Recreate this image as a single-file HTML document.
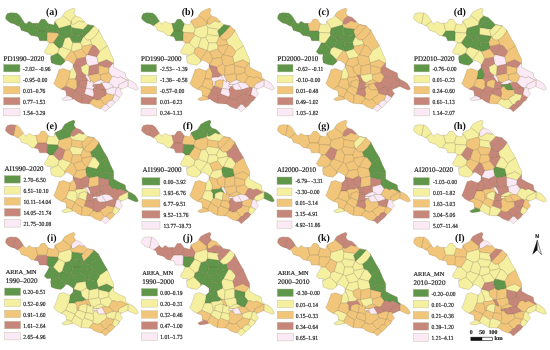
<!DOCTYPE html>
<html><head><meta charset="utf-8"><title>Figure</title>
<style>
html,body{margin:0;padding:0;background:#fff;}
svg{display:block}
text{font-family:"Liberation Serif",serif;fill:#1a1a1a;stroke:#1a1a1a;stroke-width:0.18px;text-rendering:geometricPrecision}
.pl{font-weight:bold;font-size:10px;fill:#111;stroke:none}
</style></head><body>
<svg width="550" height="350" viewBox="0 0 550 350">
<rect width="550" height="350" fill="#fff"/>
<defs>
<path id="c1" d="M10.7,12.7L7.5,13.5L6.3,15.0L5.7,17.2L5.7,18.9L7.9,21.1L10.7,22.9L13.7,23.7L15.8,13.0Z"/>
<path id="c2" d="M14.3,23.9L16.8,25.4L17.6,25.7L23.5,21.3L22.9,20.4L21.4,17.9L19.3,15.0L16.4,13.0L15.8,13.0L13.7,23.7Z"/>
<path id="c3" d="M26.4,23.8L24.6,22.9L23.5,21.3L17.6,25.7L19.6,26.4L20.7,28.6L21.2,30.2L25.9,31.7L27.7,32.2L30.9,35.4L34.3,36.0L37.8,31.0L35.8,23.2L32.2,23.2L29.5,21.5L29.0,21.2Z"/>
<path id="c4" d="M46.3,31.0L48.5,23.8L48.3,23.8L45.0,19.3L41.2,19.3L38.6,23.2L35.8,23.2L37.8,31.0Z"/>
<path id="c5" d="M58.1,33.1L59.2,28.3L54.9,21.3L54.0,25.0L48.5,23.8L46.3,31.0L47.4,32.4Z"/>
<path id="c6" d="M46.3,31.0L37.8,31.0L34.3,36.0L38.0,36.7L39.7,40.8L46.7,40.8L47.1,41.1L47.4,32.4Z"/>
<path id="c7" d="M49.3,42.7L49.1,43.1L53.2,43.0L58.8,35.0L58.1,33.1L47.4,32.4L47.1,41.1Z"/>
<path id="c8" d="M70.5,25.1L71.1,22.0L62.8,15.4L61.6,17.4L55.1,20.6L54.9,21.3L59.2,28.3Z"/>
<path id="c9" d="M71.6,21.6L71.9,19.5L75.7,16.1L73.8,12.9L75.1,9.7L73.8,8.0L69.3,9.7L64.8,12.2L62.8,15.4L71.1,22.0Z"/>
<path id="c10" d="M71.2,23.9L73.4,24.6L79.2,21.0L83.5,22.5L84.1,21.2L80.2,17.4L75.7,16.1L71.9,19.5Z"/>
<path id="c11" d="M83.2,29.5L87.8,24.7L93.4,25.8L93.6,25.7L87.3,24.5L84.1,21.2L83.5,22.5L79.2,21.0L73.4,24.6L71.2,23.9L71.6,21.6L71.1,22.0L70.5,25.1L71.7,27.7Z"/>
<path id="c12" d="M83.4,36.3L81.7,31.0L83.2,29.5L71.7,27.7L71.4,34.6Z"/>
<path id="c13" d="M65.1,38.2L69.7,37.3L71.4,34.6L71.7,27.7L70.5,25.1L59.2,28.3L58.1,33.1L58.8,35.0Z"/>
<path id="c14" d="M62.3,47.1L65.1,38.2L58.8,35.0L53.2,43.0L59.1,48.7Z"/>
<path id="c15" d="M59.1,48.7L53.2,43.0L49.1,43.1L47.4,46.6L44.2,51.7L46.7,54.3L51.2,54.3L50.8,56.6L58.0,52.9Z"/>
<path id="c16" d="M58.0,52.9L50.8,56.6L50.6,57.5L51.2,62.7L55.7,64.6L60.9,65.2L64.1,62.7L64.9,61.6L64.6,59.4Z"/>
<path id="c17" d="M71.3,50.6L71.2,50.4L62.3,47.1L59.1,48.7L58.0,52.9L64.6,59.4Z"/>
<path id="c18" d="M72.8,42.8L69.7,37.3L65.1,38.2L62.3,47.1L71.2,50.4Z"/>
<path id="c19" d="M72.8,42.8L80.7,42.8L83.5,36.5L83.4,36.3L71.4,34.6L69.7,37.3Z"/>
<path id="c20" d="M73.5,51.7L81.7,49.1L82.1,46.4L80.7,42.8L72.8,42.8L71.2,50.4L71.3,50.6Z"/>
<path id="c21" d="M83.8,37.5L85.0,35.7L89.5,31.5L94.2,26.1L94.1,26.0L87.8,24.7L81.7,31.0Z"/>
<path id="c22" d="M87.2,40.2L90.8,39.9L95.2,36.3L98.8,31.2L98.3,29.6L94.2,26.1L89.5,31.5L85.0,35.7L83.8,37.5Z"/>
<path id="c23" d="M91.9,44.4L90.5,39.9L87.2,40.2L83.8,37.5L83.5,36.5L80.7,42.8L82.1,46.4Z"/>
<path id="c24" d="M95.1,45.8L99.5,51.3L107.5,45.8L107.2,45.0L105.5,42.3L104.0,39.9L100.8,34.1L98.3,29.6L98.8,31.2L95.2,36.3L90.8,39.9L90.5,39.9L91.9,44.4L92.6,45.3ZM93.8,25.7L93.6,25.7L93.4,25.8L94.1,26.0L94.2,26.0Z"/>
<path id="c25" d="M87.5,54.8L92.6,45.3L91.9,44.4L82.1,46.4L81.7,49.1L86.5,55.2Z"/>
<path id="c26" d="M96.7,57.0L99.5,52.6L99.5,51.3L95.1,45.8L92.6,45.3L87.5,54.8Z"/>
<path id="c27" d="M96.7,57.0L98.2,63.1L106.7,59.8L113.2,63.3L113.6,63.2L113.6,59.2L110.4,52.7L110.1,51.9L107.5,45.8L99.5,51.3L99.5,52.6Z"/>
<path id="c28" d="M98.7,65.6L109.2,68.1L113.2,63.3L106.7,59.8L98.2,63.1L98.0,64.2Z"/>
<path id="c29" d="M86.7,64.0L89.3,66.1L98.0,64.2L98.2,63.1L96.7,57.0L87.5,54.8L86.5,55.2L85.4,57.3Z"/>
<path id="c30" d="M85.4,57.3L86.5,55.2L81.7,49.1L73.5,51.7L76.7,58.9Z"/>
<path id="c31" d="M76.7,58.9L73.5,51.7L71.3,50.6L64.6,59.4L64.9,61.6L66.0,60.1L68.6,60.7L73.1,64.0L73.1,65.3L73.6,65.0Z"/>
<path id="c32" d="M86.7,64.0L85.4,57.3L76.7,58.9L73.6,65.0L80.7,67.1Z"/>
<path id="c33" d="M86.2,75.5L87.7,75.0L88.2,75.9L88.5,75.5L89.3,66.1L86.7,64.0L80.7,67.1L81.9,72.0Z"/>
<path id="c34" d="M76.4,74.1L75.6,78.1L76.5,77.5L83.0,77.0L85.0,75.5L85.4,75.7L86.2,75.5L81.9,72.0L80.7,67.1L73.6,65.0L73.1,65.3L73.1,66.4Z"/>
<path id="c35" d="M75.3,79.0L75.0,78.5L75.6,78.1L76.4,74.1L73.1,66.4L73.1,67.8L70.2,70.7L68.8,79.0Z"/>
<path id="c36" d="M88.5,75.5L98.8,73.6L98.7,65.6L98.0,64.2L89.3,66.1Z"/>
<path id="c37" d="M100.2,75.0L108.8,72.6L109.2,68.1L98.7,65.6L98.8,73.6Z"/>
<path id="c38" d="M114.4,76.5L117.6,78.0L120.5,76.9L127.4,80.3L128.3,80.3L128.9,79.9L126.0,77.5L125.2,73.0L122.6,71.8L118.8,70.1L117.9,69.5L113.6,67.0L113.6,63.2L113.2,63.3L109.2,68.1L108.8,72.6L112.1,76.8Z"/>
<path id="c39" d="M112.1,76.8L108.8,72.6L100.2,75.0L100.7,79.9L103.8,81.2L104.8,82.3L108.9,82.9Z"/>
<path id="c40" d="M94.1,82.9L95.0,82.3L97.8,80.8L100.7,79.9L100.7,79.9L100.2,75.0L98.8,73.6L88.5,75.5L88.2,75.9L90.0,79.3L90.2,80.4ZM96.3,84.3L97.0,84.3L99.7,84.0L96.3,84.3Z"/>
<path id="c41" d="M92.9,86.8L96.3,86.5L97.4,88.8L97.0,84.3L96.3,84.3L93.6,84.3L92.5,85.6Z"/>
<path id="c42" d="M97.4,88.8L99.7,90.2L103.8,89.9L106.0,89.7L104.5,87.5L103.0,85.0L101.7,82.7L99.7,84.0L97.0,84.3Z"/>
<path id="c43" d="M103.0,85.0L104.5,87.5L106.0,89.7L108.0,89.1L111.3,87.9L113.7,87.4L112.4,85.4L109.6,83.0L104.8,82.3L101.7,82.7Z"/>
<path id="c44" d="M120.5,76.9L117.6,78.0L114.4,76.5L112.1,76.8L108.9,82.9L109.6,83.0L112.4,85.4L113.3,86.8L116.5,88.1L118.1,87.5L119.1,84.5L127.4,80.3Z"/>
<path id="c45" d="M121.4,89.1L124.4,87.9L127.6,86.3L128.1,86.6L128.3,80.3L127.4,80.3L119.1,84.5L118.1,87.5Z"/>
<path id="c46" d="M128.1,86.6L131.6,88.3L136.2,90.1L138.4,89.0L137.3,86.5L135.3,83.5L131.6,80.9L129.0,80.0L128.9,79.9L128.3,80.3Z"/>
<path id="c47" d="M59.0,69.7L57.7,73.6L56.9,76.0L56.0,78.5L53.8,83.4L56.7,86.8L61.0,89.1L65.8,86.2L68.7,79.0L68.8,79.0L70.2,70.7L69.9,71.0L68.6,70.5L64.7,69.0L63.5,68.5Z"/>
<path id="c48" d="M65.8,86.2L75.0,90.0L77.6,86.2L77.0,86.0L77.0,81.5L75.3,79.0L68.8,79.0L68.7,79.0Z"/>
<path id="c49" d="M61.2,89.2L65.7,90.8L66.6,95.4L71.6,97.2L75.1,90.9L75.0,90.0L65.8,86.2L61.0,89.1Z"/>
<path id="c50" d="M72.3,99.2L73.5,98.8L77.3,101.4L81.2,103.3L81.3,103.3L82.4,95.6L75.1,90.9L71.6,97.2Z"/>
<path id="c51" d="M66.6,95.4L66.8,96.5L61.7,98.9L63.8,100.7L69.6,100.0L72.3,99.2L71.6,97.2Z"/>
<path id="c52" d="M85.9,88.7L86.2,88.5L87.5,80.3L84.0,79.5L79.0,81.5L78.5,86.0Z"/>
<path id="c53" d="M77.0,81.5L77.0,86.0L78.5,86.5L79.0,81.5L84.0,79.5L87.5,80.3L89.3,81.0L87.6,78.5L85.8,75.8L85.0,75.5L83.0,77.0L76.5,77.5L75.0,78.5Z"/>
<path id="c54" d="M92.8,89.4L95.1,86.6L92.9,86.8L92.5,85.6L93.6,84.3L92.8,83.7L94.1,82.9L90.2,80.4L90.6,82.2L88.5,81.0L88.2,80.6L87.5,80.3L87.5,80.3L86.2,88.5ZM96.3,84.3L96.3,84.3L96.3,84.3Z"/>
<path id="c55" d="M89.0,103.9L93.1,98.7L92.7,96.8L84.5,93.8L82.4,95.6L81.3,103.3Z"/>
<path id="c56" d="M86.8,78.5L88.5,81.0L90.6,82.2L90.0,79.3L87.7,75.0L85.0,75.8Z"/>
<path id="c57" d="M93.8,94.2L92.7,96.8L93.1,98.7L97.1,100.2L100.7,99.3L101.7,97.4L106.0,95.2L106.8,93.3L106.0,89.7L106.0,89.7L103.8,89.9L99.7,90.2L97.4,88.8L96.3,86.5L95.1,86.6L92.8,89.4Z"/>
<path id="c58" d="M89.0,103.9L90.9,104.0L94.2,106.5L97.9,108.0L99.3,108.5L100.7,108.8L104.9,104.6L100.7,99.3L97.1,100.2L93.1,98.7Z"/>
<path id="c59" d="M114.2,95.1L106.8,93.3L106.0,95.2L101.7,97.4L100.7,99.3L104.9,104.6L106.6,104.4L108.9,101.1L112.2,100.3Z"/>
<path id="c60" d="M114.2,95.1L114.9,94.7L116.5,88.1L113.3,86.8L113.7,87.4L111.3,87.9L108.0,89.1L106.0,89.7L106.8,93.3Z"/>
<path id="c61" d="M114.9,94.7L119.6,97.5L119.9,96.9L122.5,93.7L119.9,89.8L121.4,89.1L118.1,87.5L116.5,88.1Z"/>
<path id="c62" d="M114.9,102.6L118.0,100.1L119.6,97.5L114.9,94.7L114.2,95.1L112.2,100.3Z"/>
<path id="c63" d="M104.9,104.6L100.7,108.8L102.5,109.1L105.1,111.7L109.0,108.5L109.8,107.8L106.6,104.4Z"/>
<path id="c64" d="M82.4,95.6L84.5,93.8L85.9,88.7L78.5,86.0L78.5,86.5L77.6,86.2L75.0,90.0L75.1,90.9Z"/>
<path id="c65" d="M84.5,93.8L92.7,96.8L93.8,94.2L92.8,89.4L86.2,88.5L85.9,88.7Z"/>
<path id="c66" d="M108.9,101.1L106.6,104.4L109.8,107.8L112.8,105.2L114.7,102.7L114.9,102.6L112.2,100.3Z"/>
<path id="c67" d="M93.6,84.3L96.3,84.3L99.7,84.0L101.7,82.7L104.8,82.3L103.8,81.2L100.7,79.9L97.8,80.8L95.0,82.3L92.8,83.7Z"/>
<path id="ol" d="M5.7,18.9L7.9,21.1L10.7,22.9L14.3,23.9L16.8,25.4L19.6,26.4L20.7,28.6L21.2,30.2L27.7,32.2L30.9,35.4L38.0,36.7L39.7,40.8L46.7,40.8L49.3,42.7L47.4,46.6L44.2,51.7L46.7,54.3L51.2,54.3L50.6,57.5L51.2,62.7L55.7,64.6L60.9,65.2L64.1,62.7L66.0,60.1L68.6,60.7L73.1,64.0L73.1,67.8L69.9,71.0L68.6,70.5L63.5,68.5L59.0,69.7L57.7,73.6L56.0,78.5L53.8,83.4L56.7,86.8L61.2,89.2L65.7,90.8L66.8,96.5L61.7,98.9L63.8,100.7L69.6,100.0L73.5,98.8L77.3,101.4L81.2,103.3L90.9,104.0L94.2,106.5L99.3,108.5L102.5,109.1L105.1,111.7L109.0,108.5L112.8,105.2L114.7,102.7L118.0,100.1L119.9,96.9L122.5,93.7L119.9,89.8L124.4,87.9L127.6,86.3L131.6,88.3L136.2,90.1L138.4,89.0L137.3,86.5L135.3,83.5L131.6,80.9L129.0,80.0L126.0,77.5L125.2,73.0L118.8,70.1L113.6,67.0L113.6,59.2L110.4,52.7L107.2,45.0L104.0,39.9L100.8,34.1L98.3,29.6L93.8,25.7L87.3,24.5L84.1,21.2L80.2,17.4L75.7,16.1L73.8,12.9L75.1,9.7L73.8,8.0L69.3,9.7L64.8,12.2L61.6,17.4L55.1,20.6L54.0,25.0L48.3,23.8L45.0,19.3L41.2,19.3L38.6,23.2L32.2,23.2L29.0,21.2L26.4,23.8L24.6,22.9L22.9,20.4L21.4,17.9L19.3,15.0L16.4,13.0L10.7,12.7L7.5,13.5L6.3,15.0L5.7,17.2Z"/>
</defs>
<g transform="translate(0,0)" stroke="rgba(100,80,40,0.55)" stroke-width="0.36" stroke-linejoin="round">
<use href="#c1" fill="#5f964a"/>
<use href="#c2" fill="#5f964a"/>
<use href="#c3" fill="#5f964a"/>
<use href="#c4" fill="#5f964a"/>
<use href="#c5" fill="#5f964a"/>
<use href="#c6" fill="#5f964a"/>
<use href="#c7" fill="#f2c67a"/>
<use href="#c8" fill="#f4f0a0"/>
<use href="#c9" fill="#f4f0a0"/>
<use href="#c10" fill="#f4f0a0"/>
<use href="#c11" fill="#f4f0a0"/>
<use href="#c12" fill="#5f964a"/>
<use href="#c13" fill="#5f964a"/>
<use href="#c14" fill="#5f964a"/>
<use href="#c15" fill="#f4f0a0"/>
<use href="#c16" fill="#5f964a"/>
<use href="#c17" fill="#f4f0a0"/>
<use href="#c18" fill="#f4f0a0"/>
<use href="#c19" fill="#5f964a"/>
<use href="#c20" fill="#f4f0a0"/>
<use href="#c21" fill="#5f964a"/>
<use href="#c22" fill="#f4f0a0"/>
<use href="#c23" fill="#f4f0a0"/>
<use href="#c24" fill="#f4f0a0"/>
<use href="#c25" fill="#f2c67a"/>
<use href="#c26" fill="#c7867a"/>
<use href="#c27" fill="#f4f0a0"/>
<use href="#c28" fill="#c7867a"/>
<use href="#c29" fill="#fbeaf6"/>
<use href="#c30" fill="#f2c67a"/>
<use href="#c31" fill="#f2c67a"/>
<use href="#c32" fill="#c7867a"/>
<use href="#c33" fill="#f4f0a0"/>
<use href="#c34" fill="#c7867a"/>
<use href="#c35" fill="#f4f0a0"/>
<use href="#c36" fill="#c7867a"/>
<use href="#c37" fill="#f2c67a"/>
<use href="#c38" fill="#fbeaf6"/>
<use href="#c39" fill="#f2c67a"/>
<use href="#c40" fill="#f2c67a"/>
<use href="#c41" fill="#c7867a"/>
<use href="#c42" fill="#c7867a"/>
<use href="#c43" fill="#fbeaf6"/>
<use href="#c44" fill="#fbeaf6"/>
<use href="#c45" fill="#fbeaf6"/>
<use href="#c46" fill="#fbeaf6"/>
<use href="#c47" fill="#f2c67a"/>
<use href="#c48" fill="#f2c67a"/>
<use href="#c49" fill="#c7867a"/>
<use href="#c50" fill="#c7867a"/>
<use href="#c51" fill="#fbeaf6"/>
<use href="#c52" fill="#c7867a"/>
<use href="#c53" fill="#c7867a"/>
<use href="#c54" fill="#fbeaf6"/>
<use href="#c55" fill="#c7867a"/>
<use href="#c56" fill="#fbeaf6"/>
<use href="#c57" fill="#c7867a"/>
<use href="#c58" fill="#f2c67a"/>
<use href="#c59" fill="#f2c67a"/>
<use href="#c60" fill="#fbeaf6"/>
<use href="#c61" fill="#fbeaf6"/>
<use href="#c62" fill="#fbeaf6"/>
<use href="#c63" fill="#fbeaf6"/>
<use href="#c64" fill="#c7867a"/>
<use href="#c65" fill="#fbeaf6"/>
<use href="#c66" fill="#fbeaf6"/>
<use href="#c67" fill="#fbeaf6"/>
</g>
<text x="51.8" y="14.9" class="pl" text-anchor="middle">(a)</text>
<text transform="translate(3.6,60.6) scale(0.975,1)" font-size="7.21">PD1990–2020</text>
<rect x="3.6" y="64.40" width="16.4" height="7.5" fill="#5f964a" stroke="#b8b8a0" stroke-width="0.4"/>
<text transform="translate(23.10,70.85) scale(0.9,1)" font-size="6.2">-2.82– -0.96</text>
<rect x="3.6" y="75.40" width="16.4" height="7.5" fill="#f4f0a0" stroke="#b8b8a0" stroke-width="0.4"/>
<text transform="translate(23.10,81.85) scale(0.9,1)" font-size="6.2">-0.95–0.00</text>
<rect x="3.6" y="86.40" width="16.4" height="7.5" fill="#f2c67a" stroke="#b8b8a0" stroke-width="0.4"/>
<text transform="translate(23.10,92.85) scale(0.9,1)" font-size="6.2">0.01–0.76</text>
<rect x="3.6" y="97.40" width="16.4" height="7.5" fill="#c7867a" stroke="#b8b8a0" stroke-width="0.4"/>
<text transform="translate(23.10,103.85) scale(0.9,1)" font-size="6.2">0.77–1.53</text>
<rect x="3.6" y="108.40" width="16.4" height="7.5" fill="#fbeaf6" stroke="#b8b8a0" stroke-width="0.4"/>
<text transform="translate(23.10,114.85) scale(0.9,1)" font-size="6.2">1.54–3.29</text>
<g transform="translate(136,0)" stroke="rgba(100,80,40,0.55)" stroke-width="0.36" stroke-linejoin="round">
<use href="#c1" fill="#5f964a"/>
<use href="#c2" fill="#5f964a"/>
<use href="#c3" fill="#f4f0a0"/>
<use href="#c4" fill="#5f964a"/>
<use href="#c5" fill="#f4f0a0"/>
<use href="#c6" fill="#5f964a"/>
<use href="#c7" fill="#f2c67a"/>
<use href="#c8" fill="#f2c67a"/>
<use href="#c9" fill="#f2c67a"/>
<use href="#c10" fill="#f2c67a"/>
<use href="#c11" fill="#f4f0a0"/>
<use href="#c12" fill="#f4f0a0"/>
<use href="#c13" fill="#f4f0a0"/>
<use href="#c14" fill="#f4f0a0"/>
<use href="#c15" fill="#f4f0a0"/>
<use href="#c16" fill="#f4f0a0"/>
<use href="#c17" fill="#f2c67a"/>
<use href="#c18" fill="#f4f0a0"/>
<use href="#c19" fill="#f4f0a0"/>
<use href="#c20" fill="#f4f0a0"/>
<use href="#c21" fill="#5f964a"/>
<use href="#c22" fill="#f2c67a"/>
<use href="#c23" fill="#f2c67a"/>
<use href="#c24" fill="#f4f0a0"/>
<use href="#c25" fill="#f2c67a"/>
<use href="#c26" fill="#f2c67a"/>
<use href="#c27" fill="#f4f0a0"/>
<use href="#c28" fill="#f2c67a"/>
<use href="#c29" fill="#f2c67a"/>
<use href="#c30" fill="#f2c67a"/>
<use href="#c31" fill="#f2c67a"/>
<use href="#c32" fill="#f2c67a"/>
<use href="#c33" fill="#f2c67a"/>
<use href="#c34" fill="#c7867a"/>
<use href="#c35" fill="#f2c67a"/>
<use href="#c36" fill="#f2c67a"/>
<use href="#c37" fill="#f2c67a"/>
<use href="#c38" fill="#f2c67a"/>
<use href="#c39" fill="#f2c67a"/>
<use href="#c40" fill="#f2c67a"/>
<use href="#c41" fill="#fbeaf6"/>
<use href="#c42" fill="#fbeaf6"/>
<use href="#c43" fill="#fbeaf6"/>
<use href="#c44" fill="#f2c67a"/>
<use href="#c45" fill="#fbeaf6"/>
<use href="#c46" fill="#fbeaf6"/>
<use href="#c47" fill="#f2c67a"/>
<use href="#c48" fill="#f2c67a"/>
<use href="#c49" fill="#f2c67a"/>
<use href="#c50" fill="#c7867a"/>
<use href="#c51" fill="#f2c67a"/>
<use href="#c52" fill="#f2c67a"/>
<use href="#c53" fill="#fbeaf6"/>
<use href="#c54" fill="#fbeaf6"/>
<use href="#c55" fill="#c7867a"/>
<use href="#c56" fill="#fbeaf6"/>
<use href="#c57" fill="#c7867a"/>
<use href="#c58" fill="#c7867a"/>
<use href="#c59" fill="#c7867a"/>
<use href="#c60" fill="#c7867a"/>
<use href="#c61" fill="#fbeaf6"/>
<use href="#c62" fill="#c7867a"/>
<use href="#c63" fill="#fbeaf6"/>
<use href="#c64" fill="#c7867a"/>
<use href="#c65" fill="#fbeaf6"/>
<use href="#c66" fill="#c7867a"/>
<use href="#c67" fill="#fbeaf6"/>
</g>
<text x="187.8" y="14.9" class="pl" text-anchor="middle">(b)</text>
<text transform="translate(141,60.6) scale(0.975,1)" font-size="7.21">PD1990–2000</text>
<rect x="141" y="64.40" width="15.6" height="7.5" fill="#5f964a" stroke="#b8b8a0" stroke-width="0.4"/>
<text transform="translate(160.10,70.85) scale(0.9,1)" font-size="6.2">-2.53– -1.39</text>
<rect x="141" y="75.40" width="15.6" height="7.5" fill="#f4f0a0" stroke="#b8b8a0" stroke-width="0.4"/>
<text transform="translate(160.10,81.85) scale(0.9,1)" font-size="6.2">-1.38– -0.58</text>
<rect x="141" y="86.40" width="15.6" height="7.5" fill="#f2c67a" stroke="#b8b8a0" stroke-width="0.4"/>
<text transform="translate(160.10,92.85) scale(0.9,1)" font-size="6.2">-0.57–0.00</text>
<rect x="141" y="97.40" width="15.6" height="7.5" fill="#c7867a" stroke="#b8b8a0" stroke-width="0.4"/>
<text transform="translate(160.10,103.85) scale(0.9,1)" font-size="6.2">0.01–0.23</text>
<rect x="141" y="108.40" width="15.6" height="7.5" fill="#fbeaf6" stroke="#b8b8a0" stroke-width="0.4"/>
<text transform="translate(160.10,114.85) scale(0.9,1)" font-size="6.2">0.24–1.13</text>
<g transform="translate(272,0)" stroke="rgba(100,80,40,0.55)" stroke-width="0.36" stroke-linejoin="round">
<use href="#c1" fill="#5f964a"/>
<use href="#c2" fill="#5f964a"/>
<use href="#c3" fill="#5f964a"/>
<use href="#c4" fill="#f2c67a"/>
<use href="#c5" fill="#f4f0a0"/>
<use href="#c6" fill="#5f964a"/>
<use href="#c7" fill="#f4f0a0"/>
<use href="#c8" fill="#f4f0a0"/>
<use href="#c9" fill="#f2c67a"/>
<use href="#c10" fill="#c7867a"/>
<use href="#c11" fill="#f2c67a"/>
<use href="#c12" fill="#5f964a"/>
<use href="#c13" fill="#5f964a"/>
<use href="#c14" fill="#5f964a"/>
<use href="#c15" fill="#5f964a"/>
<use href="#c16" fill="#5f964a"/>
<use href="#c17" fill="#f4f0a0"/>
<use href="#c18" fill="#5f964a"/>
<use href="#c19" fill="#5f964a"/>
<use href="#c20" fill="#5f964a"/>
<use href="#c21" fill="#f2c67a"/>
<use href="#c22" fill="#f2c67a"/>
<use href="#c23" fill="#f4f0a0"/>
<use href="#c24" fill="#f2c67a"/>
<use href="#c25" fill="#f2c67a"/>
<use href="#c26" fill="#f2c67a"/>
<use href="#c27" fill="#f4f0a0"/>
<use href="#c28" fill="#f2c67a"/>
<use href="#c29" fill="#f2c67a"/>
<use href="#c30" fill="#f4f0a0"/>
<use href="#c31" fill="#f2c67a"/>
<use href="#c32" fill="#f2c67a"/>
<use href="#c33" fill="#f2c67a"/>
<use href="#c34" fill="#f2c67a"/>
<use href="#c35" fill="#f4f0a0"/>
<use href="#c36" fill="#f2c67a"/>
<use href="#c37" fill="#f2c67a"/>
<use href="#c38" fill="#c7867a"/>
<use href="#c39" fill="#f2c67a"/>
<use href="#c40" fill="#f4f0a0"/>
<use href="#c41" fill="#f2c67a"/>
<use href="#c42" fill="#f2c67a"/>
<use href="#c43" fill="#c7867a"/>
<use href="#c44" fill="#c7867a"/>
<use href="#c45" fill="#c7867a"/>
<use href="#c46" fill="#c7867a"/>
<use href="#c47" fill="#f2c67a"/>
<use href="#c48" fill="#f2c67a"/>
<use href="#c49" fill="#f2c67a"/>
<use href="#c50" fill="#f2c67a"/>
<use href="#c51" fill="#f2c67a"/>
<use href="#c52" fill="#f2c67a"/>
<use href="#c53" fill="#f2c67a"/>
<use href="#c54" fill="#c7867a"/>
<use href="#c55" fill="#f2c67a"/>
<use href="#c56" fill="#c7867a"/>
<use href="#c57" fill="#f2c67a"/>
<use href="#c58" fill="#f2c67a"/>
<use href="#c59" fill="#f2c67a"/>
<use href="#c60" fill="#c7867a"/>
<use href="#c61" fill="#c7867a"/>
<use href="#c62" fill="#fbeaf6"/>
<use href="#c63" fill="#fbeaf6"/>
<use href="#c64" fill="#f2c67a"/>
<use href="#c65" fill="#c7867a"/>
<use href="#c66" fill="#fbeaf6"/>
<use href="#c67" fill="#f2c67a"/>
</g>
<text x="323.8" y="14.9" class="pl" text-anchor="middle">(c)</text>
<text transform="translate(277.6,60.6) scale(0.975,1)" font-size="7.21">PD2000–2010</text>
<rect x="277.6" y="64.40" width="15.4" height="7.5" fill="#5f964a" stroke="#b8b8a0" stroke-width="0.4"/>
<text transform="translate(296.10,70.85) scale(0.9,1)" font-size="6.2">-0.62– -0.11</text>
<rect x="277.6" y="75.40" width="15.4" height="7.5" fill="#f4f0a0" stroke="#b8b8a0" stroke-width="0.4"/>
<text transform="translate(296.10,81.85) scale(0.9,1)" font-size="6.2">-0.10–0.00</text>
<rect x="277.6" y="86.40" width="15.4" height="7.5" fill="#f2c67a" stroke="#b8b8a0" stroke-width="0.4"/>
<text transform="translate(296.10,92.85) scale(0.9,1)" font-size="6.2">0.01–0.48</text>
<rect x="277.6" y="97.40" width="15.4" height="7.5" fill="#c7867a" stroke="#b8b8a0" stroke-width="0.4"/>
<text transform="translate(296.10,103.85) scale(0.9,1)" font-size="6.2">0.49–1.02</text>
<rect x="277.6" y="108.40" width="15.4" height="7.5" fill="#fbeaf6" stroke="#b8b8a0" stroke-width="0.4"/>
<text transform="translate(296.10,114.85) scale(0.9,1)" font-size="6.2">1.03–1.82</text>
<g transform="translate(408,0)" stroke="rgba(100,80,40,0.55)" stroke-width="0.36" stroke-linejoin="round">
<use href="#c1" fill="#f4f0a0"/>
<use href="#c2" fill="#f4f0a0"/>
<use href="#c3" fill="#f4f0a0"/>
<use href="#c4" fill="#f4f0a0"/>
<use href="#c5" fill="#f4f0a0"/>
<use href="#c6" fill="#5f964a"/>
<use href="#c7" fill="#f4f0a0"/>
<use href="#c8" fill="#f4f0a0"/>
<use href="#c9" fill="#f4f0a0"/>
<use href="#c10" fill="#5f964a"/>
<use href="#c11" fill="#5f964a"/>
<use href="#c12" fill="#f4f0a0"/>
<use href="#c13" fill="#5f964a"/>
<use href="#c14" fill="#5f964a"/>
<use href="#c15" fill="#f4f0a0"/>
<use href="#c16" fill="#5f964a"/>
<use href="#c17" fill="#f4f0a0"/>
<use href="#c18" fill="#5f964a"/>
<use href="#c19" fill="#5f964a"/>
<use href="#c20" fill="#5f964a"/>
<use href="#c21" fill="#f4f0a0"/>
<use href="#c22" fill="#f4f0a0"/>
<use href="#c23" fill="#f2c67a"/>
<use href="#c24" fill="#f2c67a"/>
<use href="#c25" fill="#c7867a"/>
<use href="#c26" fill="#c7867a"/>
<use href="#c27" fill="#f2c67a"/>
<use href="#c28" fill="#c7867a"/>
<use href="#c29" fill="#fbeaf6"/>
<use href="#c30" fill="#f2c67a"/>
<use href="#c31" fill="#f4f0a0"/>
<use href="#c32" fill="#c7867a"/>
<use href="#c33" fill="#f4f0a0"/>
<use href="#c34" fill="#c7867a"/>
<use href="#c35" fill="#5f964a"/>
<use href="#c36" fill="#c7867a"/>
<use href="#c37" fill="#f2c67a"/>
<use href="#c38" fill="#fbeaf6"/>
<use href="#c39" fill="#f2c67a"/>
<use href="#c40" fill="#f2c67a"/>
<use href="#c41" fill="#5f964a"/>
<use href="#c42" fill="#5f964a"/>
<use href="#c43" fill="#c7867a"/>
<use href="#c44" fill="#fbeaf6"/>
<use href="#c45" fill="#fbeaf6"/>
<use href="#c46" fill="#fbeaf6"/>
<use href="#c47" fill="#f2c67a"/>
<use href="#c48" fill="#f2c67a"/>
<use href="#c49" fill="#c7867a"/>
<use href="#c50" fill="#c7867a"/>
<use href="#c51" fill="#fbeaf6"/>
<use href="#c52" fill="#f2c67a"/>
<use href="#c53" fill="#c7867a"/>
<use href="#c54" fill="#c7867a"/>
<use href="#c55" fill="#f2c67a"/>
<use href="#c56" fill="#fbeaf6"/>
<use href="#c57" fill="#f2c67a"/>
<use href="#c58" fill="#f4f0a0"/>
<use href="#c59" fill="#f4f0a0"/>
<use href="#c60" fill="#c7867a"/>
<use href="#c61" fill="#fbeaf6"/>
<use href="#c62" fill="#c7867a"/>
<use href="#c63" fill="#c7867a"/>
<use href="#c64" fill="#c7867a"/>
<use href="#c65" fill="#c7867a"/>
<use href="#c66" fill="#c7867a"/>
<use href="#c67" fill="#fbeaf6"/>
</g>
<text x="459.8" y="14.9" class="pl" text-anchor="middle">(d)</text>
<text transform="translate(414,60.6) scale(0.975,1)" font-size="7.21">PD2010–2020</text>
<rect x="414" y="64.40" width="15.4" height="7.5" fill="#5f964a" stroke="#b8b8a0" stroke-width="0.4"/>
<text transform="translate(432.50,70.85) scale(0.9,1)" font-size="6.2">-0.76–0.00</text>
<rect x="414" y="75.40" width="15.4" height="7.5" fill="#f4f0a0" stroke="#b8b8a0" stroke-width="0.4"/>
<text transform="translate(432.50,81.85) scale(0.9,1)" font-size="6.2">0.01–0.23</text>
<rect x="414" y="86.40" width="15.4" height="7.5" fill="#f2c67a" stroke="#b8b8a0" stroke-width="0.4"/>
<text transform="translate(432.50,92.85) scale(0.9,1)" font-size="6.2">0.24–0.60</text>
<rect x="414" y="97.40" width="15.4" height="7.5" fill="#c7867a" stroke="#b8b8a0" stroke-width="0.4"/>
<text transform="translate(432.50,103.85) scale(0.9,1)" font-size="6.2">0.61–1.13</text>
<rect x="414" y="108.40" width="15.4" height="7.5" fill="#fbeaf6" stroke="#b8b8a0" stroke-width="0.4"/>
<text transform="translate(432.50,114.85) scale(0.9,1)" font-size="6.2">1.14–2.07</text>
<g transform="translate(0,112)" stroke="rgba(100,80,40,0.55)" stroke-width="0.36" stroke-linejoin="round">
<use href="#c1" fill="#c7867a"/>
<use href="#c2" fill="#f2c67a"/>
<use href="#c3" fill="#f4f0a0"/>
<use href="#c4" fill="#f2c67a"/>
<use href="#c5" fill="#f4f0a0"/>
<use href="#c6" fill="#c7867a"/>
<use href="#c7" fill="#5f964a"/>
<use href="#c8" fill="#5f964a"/>
<use href="#c9" fill="#5f964a"/>
<use href="#c10" fill="#c7867a"/>
<use href="#c11" fill="#f4f0a0"/>
<use href="#c12" fill="#f2c67a"/>
<use href="#c13" fill="#f2c67a"/>
<use href="#c14" fill="#c7867a"/>
<use href="#c15" fill="#f4f0a0"/>
<use href="#c16" fill="#f4f0a0"/>
<use href="#c17" fill="#f4f0a0"/>
<use href="#c18" fill="#f2c67a"/>
<use href="#c19" fill="#f4f0a0"/>
<use href="#c20" fill="#f2c67a"/>
<use href="#c21" fill="#f2c67a"/>
<use href="#c22" fill="#f2c67a"/>
<use href="#c23" fill="#f2c67a"/>
<use href="#c24" fill="#5f964a"/>
<use href="#c25" fill="#f2c67a"/>
<use href="#c26" fill="#f4f0a0"/>
<use href="#c27" fill="#5f964a"/>
<use href="#c28" fill="#5f964a"/>
<use href="#c29" fill="#5f964a"/>
<use href="#c30" fill="#f2c67a"/>
<use href="#c31" fill="#f2c67a"/>
<use href="#c32" fill="#f2c67a"/>
<use href="#c33" fill="#c7867a"/>
<use href="#c34" fill="#c7867a"/>
<use href="#c35" fill="#f2c67a"/>
<use href="#c36" fill="#f2c67a"/>
<use href="#c37" fill="#c7867a"/>
<use href="#c38" fill="#5f964a"/>
<use href="#c39" fill="#c7867a"/>
<use href="#c40" fill="#c7867a"/>
<use href="#c41" fill="#fbeaf6"/>
<use href="#c42" fill="#fbeaf6"/>
<use href="#c43" fill="#fbeaf6"/>
<use href="#c44" fill="#c7867a"/>
<use href="#c45" fill="#f4f0a0"/>
<use href="#c46" fill="#5f964a"/>
<use href="#c47" fill="#f2c67a"/>
<use href="#c48" fill="#f4f0a0"/>
<use href="#c49" fill="#f2c67a"/>
<use href="#c50" fill="#f2c67a"/>
<use href="#c51" fill="#f4f0a0"/>
<use href="#c52" fill="#f4f0a0"/>
<use href="#c53" fill="#f4f0a0"/>
<use href="#c54" fill="#c7867a"/>
<use href="#c55" fill="#f2c67a"/>
<use href="#c56" fill="#fbeaf6"/>
<use href="#c57" fill="#c7867a"/>
<use href="#c58" fill="#f2c67a"/>
<use href="#c59" fill="#f2c67a"/>
<use href="#c60" fill="#c7867a"/>
<use href="#c61" fill="#fbeaf6"/>
<use href="#c62" fill="#f4f0a0"/>
<use href="#c63" fill="#fbeaf6"/>
<use href="#c64" fill="#f2c67a"/>
<use href="#c65" fill="#c7867a"/>
<use href="#c66" fill="#f2c67a"/>
<use href="#c67" fill="#c7867a"/>
</g>
<text x="51.8" y="128.7" class="pl" text-anchor="middle">(e)</text>
<text transform="translate(4.4,171.4) scale(0.975,1)" font-size="7.21">AI1990–2020</text>
<rect x="4.4" y="175.60" width="16" height="7.5" fill="#5f964a" stroke="#b8b8a0" stroke-width="0.4"/>
<text transform="translate(23.50,182.05) scale(0.9,1)" font-size="6.2">2.70–6.50</text>
<rect x="4.4" y="186.60" width="16" height="7.5" fill="#f4f0a0" stroke="#b8b8a0" stroke-width="0.4"/>
<text transform="translate(23.50,193.05) scale(0.9,1)" font-size="6.2">6.51–10.10</text>
<rect x="4.4" y="197.60" width="16" height="7.5" fill="#f2c67a" stroke="#b8b8a0" stroke-width="0.4"/>
<text transform="translate(23.50,204.05) scale(0.9,1)" font-size="6.2">10.11–14.04</text>
<rect x="4.4" y="208.60" width="16" height="7.5" fill="#c7867a" stroke="#b8b8a0" stroke-width="0.4"/>
<text transform="translate(23.50,215.05) scale(0.9,1)" font-size="6.2">14.05–21.74</text>
<rect x="4.4" y="219.60" width="16" height="7.5" fill="#fbeaf6" stroke="#b8b8a0" stroke-width="0.4"/>
<text transform="translate(23.50,226.05) scale(0.9,1)" font-size="6.2">21.75–30.08</text>
<g transform="translate(136,112)" stroke="rgba(100,80,40,0.55)" stroke-width="0.36" stroke-linejoin="round">
<use href="#c1" fill="#c7867a"/>
<use href="#c2" fill="#c7867a"/>
<use href="#c3" fill="#f4f0a0"/>
<use href="#c4" fill="#c7867a"/>
<use href="#c5" fill="#f2c67a"/>
<use href="#c6" fill="#c7867a"/>
<use href="#c7" fill="#5f964a"/>
<use href="#c8" fill="#5f964a"/>
<use href="#c9" fill="#5f964a"/>
<use href="#c10" fill="#5f964a"/>
<use href="#c11" fill="#f4f0a0"/>
<use href="#c12" fill="#f2c67a"/>
<use href="#c13" fill="#f2c67a"/>
<use href="#c14" fill="#f2c67a"/>
<use href="#c15" fill="#f4f0a0"/>
<use href="#c16" fill="#f4f0a0"/>
<use href="#c17" fill="#f4f0a0"/>
<use href="#c18" fill="#f4f0a0"/>
<use href="#c19" fill="#f4f0a0"/>
<use href="#c20" fill="#f4f0a0"/>
<use href="#c21" fill="#f2c67a"/>
<use href="#c22" fill="#f2c67a"/>
<use href="#c23" fill="#f4f0a0"/>
<use href="#c24" fill="#c7867a"/>
<use href="#c25" fill="#f4f0a0"/>
<use href="#c26" fill="#f4f0a0"/>
<use href="#c27" fill="#f2c67a"/>
<use href="#c28" fill="#f2c67a"/>
<use href="#c29" fill="#5f964a"/>
<use href="#c30" fill="#f2c67a"/>
<use href="#c31" fill="#f4f0a0"/>
<use href="#c32" fill="#f4f0a0"/>
<use href="#c33" fill="#f2c67a"/>
<use href="#c34" fill="#f2c67a"/>
<use href="#c35" fill="#f4f0a0"/>
<use href="#c36" fill="#f2c67a"/>
<use href="#c37" fill="#f2c67a"/>
<use href="#c38" fill="#f4f0a0"/>
<use href="#c39" fill="#f2c67a"/>
<use href="#c40" fill="#f2c67a"/>
<use href="#c41" fill="#fbeaf6"/>
<use href="#c42" fill="#fbeaf6"/>
<use href="#c43" fill="#fbeaf6"/>
<use href="#c44" fill="#c7867a"/>
<use href="#c45" fill="#f4f0a0"/>
<use href="#c46" fill="#5f964a"/>
<use href="#c47" fill="#f2c67a"/>
<use href="#c48" fill="#f4f0a0"/>
<use href="#c49" fill="#f2c67a"/>
<use href="#c50" fill="#f2c67a"/>
<use href="#c51" fill="#f2c67a"/>
<use href="#c52" fill="#f4f0a0"/>
<use href="#c53" fill="#5f964a"/>
<use href="#c54" fill="#f2c67a"/>
<use href="#c55" fill="#f2c67a"/>
<use href="#c56" fill="#fbeaf6"/>
<use href="#c57" fill="#c7867a"/>
<use href="#c58" fill="#f2c67a"/>
<use href="#c59" fill="#f2c67a"/>
<use href="#c60" fill="#f2c67a"/>
<use href="#c61" fill="#fbeaf6"/>
<use href="#c62" fill="#f4f0a0"/>
<use href="#c63" fill="#c7867a"/>
<use href="#c64" fill="#f2c67a"/>
<use href="#c65" fill="#f2c67a"/>
<use href="#c66" fill="#c7867a"/>
<use href="#c67" fill="#f2c67a"/>
</g>
<text x="187.8" y="128.7" class="pl" text-anchor="middle">(f)</text>
<text transform="translate(142.6,172.4) scale(0.975,1)" font-size="7.21">AI1990–2000</text>
<rect x="142" y="177.60" width="18" height="7.5" fill="#5f964a" stroke="#b8b8a0" stroke-width="0.4"/>
<text transform="translate(163.50,184.05) scale(0.9,1)" font-size="6.2">0.00–3.92</text>
<rect x="142" y="188.60" width="18" height="7.5" fill="#f4f0a0" stroke="#b8b8a0" stroke-width="0.4"/>
<text transform="translate(163.50,195.05) scale(0.9,1)" font-size="6.2">3.93–6.76</text>
<rect x="142" y="199.60" width="18" height="7.5" fill="#f2c67a" stroke="#b8b8a0" stroke-width="0.4"/>
<text transform="translate(163.50,206.05) scale(0.9,1)" font-size="6.2">6.77–9.51</text>
<rect x="142" y="210.60" width="18" height="7.5" fill="#c7867a" stroke="#b8b8a0" stroke-width="0.4"/>
<text transform="translate(163.50,217.05) scale(0.9,1)" font-size="6.2">9.52–13.76</text>
<rect x="142" y="221.60" width="18" height="7.5" fill="#fbeaf6" stroke="#b8b8a0" stroke-width="0.4"/>
<text transform="translate(163.50,228.05) scale(0.9,1)" font-size="6.2">13.77–18.73</text>
<g transform="translate(272,112)" stroke="rgba(100,80,40,0.55)" stroke-width="0.36" stroke-linejoin="round">
<use href="#c1" fill="#f2c67a"/>
<use href="#c2" fill="#f2c67a"/>
<use href="#c3" fill="#f2c67a"/>
<use href="#c4" fill="#f2c67a"/>
<use href="#c5" fill="#f2c67a"/>
<use href="#c6" fill="#f2c67a"/>
<use href="#c7" fill="#f2c67a"/>
<use href="#c8" fill="#f2c67a"/>
<use href="#c9" fill="#f2c67a"/>
<use href="#c10" fill="#c7867a"/>
<use href="#c11" fill="#f2c67a"/>
<use href="#c12" fill="#f2c67a"/>
<use href="#c13" fill="#f2c67a"/>
<use href="#c14" fill="#c7867a"/>
<use href="#c15" fill="#f2c67a"/>
<use href="#c16" fill="#f2c67a"/>
<use href="#c17" fill="#f2c67a"/>
<use href="#c18" fill="#f2c67a"/>
<use href="#c19" fill="#f2c67a"/>
<use href="#c20" fill="#f2c67a"/>
<use href="#c21" fill="#f4f0a0"/>
<use href="#c22" fill="#f2c67a"/>
<use href="#c23" fill="#f2c67a"/>
<use href="#c24" fill="#5f964a"/>
<use href="#c25" fill="#f2c67a"/>
<use href="#c26" fill="#f2c67a"/>
<use href="#c27" fill="#5f964a"/>
<use href="#c28" fill="#5f964a"/>
<use href="#c29" fill="#f2c67a"/>
<use href="#c30" fill="#f2c67a"/>
<use href="#c31" fill="#f2c67a"/>
<use href="#c32" fill="#f2c67a"/>
<use href="#c33" fill="#c7867a"/>
<use href="#c34" fill="#c7867a"/>
<use href="#c35" fill="#c7867a"/>
<use href="#c36" fill="#f2c67a"/>
<use href="#c37" fill="#c7867a"/>
<use href="#c38" fill="#5f964a"/>
<use href="#c39" fill="#fbeaf6"/>
<use href="#c40" fill="#c7867a"/>
<use href="#c41" fill="#fbeaf6"/>
<use href="#c42" fill="#fbeaf6"/>
<use href="#c43" fill="#fbeaf6"/>
<use href="#c44" fill="#f2c67a"/>
<use href="#c45" fill="#f2c67a"/>
<use href="#c46" fill="#f2c67a"/>
<use href="#c47" fill="#f2c67a"/>
<use href="#c48" fill="#f2c67a"/>
<use href="#c49" fill="#f2c67a"/>
<use href="#c50" fill="#f2c67a"/>
<use href="#c51" fill="#f4f0a0"/>
<use href="#c52" fill="#f2c67a"/>
<use href="#c53" fill="#f2c67a"/>
<use href="#c54" fill="#c7867a"/>
<use href="#c55" fill="#f2c67a"/>
<use href="#c56" fill="#c7867a"/>
<use href="#c57" fill="#f2c67a"/>
<use href="#c58" fill="#f2c67a"/>
<use href="#c59" fill="#f2c67a"/>
<use href="#c60" fill="#c7867a"/>
<use href="#c61" fill="#fbeaf6"/>
<use href="#c62" fill="#f2c67a"/>
<use href="#c63" fill="#c7867a"/>
<use href="#c64" fill="#f2c67a"/>
<use href="#c65" fill="#c7867a"/>
<use href="#c66" fill="#c7867a"/>
<use href="#c67" fill="#fbeaf6"/>
</g>
<text x="323.8" y="128.7" class="pl" text-anchor="middle">(g)</text>
<text transform="translate(277,172.0) scale(0.975,1)" font-size="7.21">AI2000–2010</text>
<rect x="277" y="177.00" width="15" height="7.5" fill="#5f964a" stroke="#b8b8a0" stroke-width="0.4"/>
<text transform="translate(295.50,183.45) scale(0.9,1)" font-size="6.2">-6.79– -3.31</text>
<rect x="277" y="188.00" width="15" height="7.5" fill="#f4f0a0" stroke="#b8b8a0" stroke-width="0.4"/>
<text transform="translate(295.50,194.45) scale(0.9,1)" font-size="6.2">-3.30–0.00</text>
<rect x="277" y="199.00" width="15" height="7.5" fill="#f2c67a" stroke="#b8b8a0" stroke-width="0.4"/>
<text transform="translate(295.50,205.45) scale(0.9,1)" font-size="6.2">0.01–3.14</text>
<rect x="277" y="210.00" width="15" height="7.5" fill="#c7867a" stroke="#b8b8a0" stroke-width="0.4"/>
<text transform="translate(295.50,216.45) scale(0.9,1)" font-size="6.2">3.15–4.91</text>
<rect x="277" y="221.00" width="15" height="7.5" fill="#fbeaf6" stroke="#b8b8a0" stroke-width="0.4"/>
<text transform="translate(295.50,227.45) scale(0.9,1)" font-size="6.2">4.92–11.86</text>
<g transform="translate(408,112)" stroke="rgba(100,80,40,0.55)" stroke-width="0.36" stroke-linejoin="round">
<use href="#c1" fill="#f4f0a0"/>
<use href="#c2" fill="#f4f0a0"/>
<use href="#c3" fill="#f4f0a0"/>
<use href="#c4" fill="#f4f0a0"/>
<use href="#c5" fill="#f4f0a0"/>
<use href="#c6" fill="#f4f0a0"/>
<use href="#c7" fill="#f4f0a0"/>
<use href="#c8" fill="#f4f0a0"/>
<use href="#c9" fill="#f4f0a0"/>
<use href="#c10" fill="#fbeaf6"/>
<use href="#c11" fill="#f4f0a0"/>
<use href="#c12" fill="#f4f0a0"/>
<use href="#c13" fill="#f2c67a"/>
<use href="#c14" fill="#c7867a"/>
<use href="#c15" fill="#f4f0a0"/>
<use href="#c16" fill="#f4f0a0"/>
<use href="#c17" fill="#f2c67a"/>
<use href="#c18" fill="#f2c67a"/>
<use href="#c19" fill="#f2c67a"/>
<use href="#c20" fill="#f2c67a"/>
<use href="#c21" fill="#c7867a"/>
<use href="#c22" fill="#c7867a"/>
<use href="#c23" fill="#c7867a"/>
<use href="#c24" fill="#f4f0a0"/>
<use href="#c25" fill="#c7867a"/>
<use href="#c26" fill="#f4f0a0"/>
<use href="#c27" fill="#f4f0a0"/>
<use href="#c28" fill="#f4f0a0"/>
<use href="#c29" fill="#5f964a"/>
<use href="#c30" fill="#f2c67a"/>
<use href="#c31" fill="#c7867a"/>
<use href="#c32" fill="#fbeaf6"/>
<use href="#c33" fill="#c7867a"/>
<use href="#c34" fill="#c7867a"/>
<use href="#c35" fill="#c7867a"/>
<use href="#c36" fill="#c7867a"/>
<use href="#c37" fill="#fbeaf6"/>
<use href="#c38" fill="#c7867a"/>
<use href="#c39" fill="#fbeaf6"/>
<use href="#c40" fill="#c7867a"/>
<use href="#c41" fill="#f4f0a0"/>
<use href="#c42" fill="#f2c67a"/>
<use href="#c43" fill="#f2c67a"/>
<use href="#c44" fill="#f4f0a0"/>
<use href="#c45" fill="#f4f0a0"/>
<use href="#c46" fill="#f4f0a0"/>
<use href="#c47" fill="#c7867a"/>
<use href="#c48" fill="#f2c67a"/>
<use href="#c49" fill="#f2c67a"/>
<use href="#c50" fill="#f4f0a0"/>
<use href="#c51" fill="#5f964a"/>
<use href="#c52" fill="#f4f0a0"/>
<use href="#c53" fill="#f2c67a"/>
<use href="#c54" fill="#c7867a"/>
<use href="#c55" fill="#f4f0a0"/>
<use href="#c56" fill="#fbeaf6"/>
<use href="#c57" fill="#f2c67a"/>
<use href="#c58" fill="#c7867a"/>
<use href="#c59" fill="#c7867a"/>
<use href="#c60" fill="#c7867a"/>
<use href="#c61" fill="#f2c67a"/>
<use href="#c62" fill="#f4f0a0"/>
<use href="#c63" fill="#fbeaf6"/>
<use href="#c64" fill="#f2c67a"/>
<use href="#c65" fill="#c7867a"/>
<use href="#c66" fill="#c7867a"/>
<use href="#c67" fill="#f4f0a0"/>
</g>
<text x="459.8" y="128.7" class="pl" text-anchor="middle">(h)</text>
<text transform="translate(414,172.4) scale(0.975,1)" font-size="7.21">AI2010–2020</text>
<rect x="413.4" y="177.60" width="16" height="7.5" fill="#5f964a" stroke="#b8b8a0" stroke-width="0.4"/>
<text transform="translate(432.90,184.05) scale(0.9,1)" font-size="6.2">-1.03–0.00</text>
<rect x="413.4" y="188.60" width="16" height="7.5" fill="#f4f0a0" stroke="#b8b8a0" stroke-width="0.4"/>
<text transform="translate(432.90,195.05) scale(0.9,1)" font-size="6.2">0.01–1.82</text>
<rect x="413.4" y="199.60" width="16" height="7.5" fill="#f2c67a" stroke="#b8b8a0" stroke-width="0.4"/>
<text transform="translate(432.90,206.05) scale(0.9,1)" font-size="6.2">1.83–3.03</text>
<rect x="413.4" y="210.60" width="16" height="7.5" fill="#c7867a" stroke="#b8b8a0" stroke-width="0.4"/>
<text transform="translate(432.90,217.05) scale(0.9,1)" font-size="6.2">3.04–5.06</text>
<rect x="413.4" y="221.60" width="16" height="7.5" fill="#fbeaf6" stroke="#b8b8a0" stroke-width="0.4"/>
<text transform="translate(432.90,228.05) scale(0.9,1)" font-size="6.2">5.07–11.44</text>
<g transform="translate(0,224.2)" stroke="rgba(100,80,40,0.55)" stroke-width="0.36" stroke-linejoin="round">
<use href="#c1" fill="#c7867a"/>
<use href="#c2" fill="#c7867a"/>
<use href="#c3" fill="#f2c67a"/>
<use href="#c4" fill="#f2c67a"/>
<use href="#c5" fill="#f2c67a"/>
<use href="#c6" fill="#c7867a"/>
<use href="#c7" fill="#5f964a"/>
<use href="#c8" fill="#f2c67a"/>
<use href="#c9" fill="#f2c67a"/>
<use href="#c10" fill="#fbeaf6"/>
<use href="#c11" fill="#f2c67a"/>
<use href="#c12" fill="#5f964a"/>
<use href="#c13" fill="#f4f0a0"/>
<use href="#c14" fill="#f4f0a0"/>
<use href="#c15" fill="#5f964a"/>
<use href="#c16" fill="#5f964a"/>
<use href="#c17" fill="#5f964a"/>
<use href="#c18" fill="#5f964a"/>
<use href="#c19" fill="#5f964a"/>
<use href="#c20" fill="#5f964a"/>
<use href="#c21" fill="#f2c67a"/>
<use href="#c22" fill="#5f964a"/>
<use href="#c23" fill="#5f964a"/>
<use href="#c24" fill="#5f964a"/>
<use href="#c25" fill="#5f964a"/>
<use href="#c26" fill="#5f964a"/>
<use href="#c27" fill="#f4f0a0"/>
<use href="#c28" fill="#5f964a"/>
<use href="#c29" fill="#5f964a"/>
<use href="#c30" fill="#5f964a"/>
<use href="#c31" fill="#5f964a"/>
<use href="#c32" fill="#f4f0a0"/>
<use href="#c33" fill="#f4f0a0"/>
<use href="#c34" fill="#5f964a"/>
<use href="#c35" fill="#5f964a"/>
<use href="#c36" fill="#f4f0a0"/>
<use href="#c37" fill="#f4f0a0"/>
<use href="#c38" fill="#f4f0a0"/>
<use href="#c39" fill="#f4f0a0"/>
<use href="#c40" fill="#f4f0a0"/>
<use href="#c41" fill="#fbeaf6"/>
<use href="#c42" fill="#fbeaf6"/>
<use href="#c43" fill="#f2c67a"/>
<use href="#c44" fill="#f2c67a"/>
<use href="#c45" fill="#f4f0a0"/>
<use href="#c46" fill="#f4f0a0"/>
<use href="#c47" fill="#f4f0a0"/>
<use href="#c48" fill="#f4f0a0"/>
<use href="#c49" fill="#f4f0a0"/>
<use href="#c50" fill="#f4f0a0"/>
<use href="#c51" fill="#f4f0a0"/>
<use href="#c52" fill="#f4f0a0"/>
<use href="#c53" fill="#f2c67a"/>
<use href="#c54" fill="#f4f0a0"/>
<use href="#c55" fill="#f4f0a0"/>
<use href="#c56" fill="#f2c67a"/>
<use href="#c57" fill="#f4f0a0"/>
<use href="#c58" fill="#f2c67a"/>
<use href="#c59" fill="#f2c67a"/>
<use href="#c60" fill="#f4f0a0"/>
<use href="#c61" fill="#f4f0a0"/>
<use href="#c62" fill="#f4f0a0"/>
<use href="#c63" fill="#f2c67a"/>
<use href="#c64" fill="#f4f0a0"/>
<use href="#c65" fill="#f4f0a0"/>
<use href="#c66" fill="#f2c67a"/>
<use href="#c67" fill="#f4f0a0"/>
</g>
<text x="51.8" y="240.6" class="pl" text-anchor="middle">(i)</text>
<text transform="translate(5.7,273.9) scale(1.05,1)" font-size="6.1">AREA_MN</text>
<text transform="translate(5.7,283.2) scale(1.0,1)" font-size="7.1">1990–2020</text>
<rect x="4.6" y="288.00" width="16" height="7.5" fill="#5f964a" stroke="#b8b8a0" stroke-width="0.4"/>
<text transform="translate(23.20,294.45) scale(0.9,1)" font-size="6.2">0.20–0.51</text>
<rect x="4.6" y="299.10" width="16" height="7.5" fill="#f4f0a0" stroke="#b8b8a0" stroke-width="0.4"/>
<text transform="translate(23.20,305.55) scale(0.9,1)" font-size="6.2">0.52–0.90</text>
<rect x="4.6" y="310.20" width="16" height="7.5" fill="#f2c67a" stroke="#b8b8a0" stroke-width="0.4"/>
<text transform="translate(23.20,316.65) scale(0.9,1)" font-size="6.2">0.91–1.60</text>
<rect x="4.6" y="321.30" width="16" height="7.5" fill="#c7867a" stroke="#b8b8a0" stroke-width="0.4"/>
<text transform="translate(23.20,327.75) scale(0.9,1)" font-size="6.2">1.61–2.64</text>
<rect x="4.6" y="332.40" width="16" height="7.5" fill="#fbeaf6" stroke="#b8b8a0" stroke-width="0.4"/>
<text transform="translate(23.20,338.85) scale(0.9,1)" font-size="6.2">2.65–4.96</text>
<g transform="translate(136,224.2)" stroke="rgba(100,80,40,0.55)" stroke-width="0.36" stroke-linejoin="round">
<use href="#c1" fill="#fbeaf6"/>
<use href="#c2" fill="#fbeaf6"/>
<use href="#c3" fill="#c7867a"/>
<use href="#c4" fill="#c7867a"/>
<use href="#c5" fill="#c7867a"/>
<use href="#c6" fill="#fbeaf6"/>
<use href="#c7" fill="#5f964a"/>
<use href="#c8" fill="#f2c67a"/>
<use href="#c9" fill="#c7867a"/>
<use href="#c10" fill="#f2c67a"/>
<use href="#c11" fill="#c7867a"/>
<use href="#c12" fill="#f4f0a0"/>
<use href="#c13" fill="#f4f0a0"/>
<use href="#c14" fill="#f4f0a0"/>
<use href="#c15" fill="#f4f0a0"/>
<use href="#c16" fill="#f4f0a0"/>
<use href="#c17" fill="#5f964a"/>
<use href="#c18" fill="#5f964a"/>
<use href="#c19" fill="#5f964a"/>
<use href="#c20" fill="#5f964a"/>
<use href="#c21" fill="#c7867a"/>
<use href="#c22" fill="#f4f0a0"/>
<use href="#c23" fill="#5f964a"/>
<use href="#c24" fill="#c7867a"/>
<use href="#c25" fill="#5f964a"/>
<use href="#c26" fill="#f4f0a0"/>
<use href="#c27" fill="#c7867a"/>
<use href="#c28" fill="#f2c67a"/>
<use href="#c29" fill="#f4f0a0"/>
<use href="#c30" fill="#5f964a"/>
<use href="#c31" fill="#5f964a"/>
<use href="#c32" fill="#5f964a"/>
<use href="#c33" fill="#f4f0a0"/>
<use href="#c34" fill="#5f964a"/>
<use href="#c35" fill="#5f964a"/>
<use href="#c36" fill="#f4f0a0"/>
<use href="#c37" fill="#5f964a"/>
<use href="#c38" fill="#f4f0a0"/>
<use href="#c39" fill="#5f964a"/>
<use href="#c40" fill="#f4f0a0"/>
<use href="#c41" fill="#fbeaf6"/>
<use href="#c42" fill="#fbeaf6"/>
<use href="#c43" fill="#f2c67a"/>
<use href="#c44" fill="#f2c67a"/>
<use href="#c45" fill="#f2c67a"/>
<use href="#c46" fill="#f4f0a0"/>
<use href="#c47" fill="#f4f0a0"/>
<use href="#c48" fill="#f4f0a0"/>
<use href="#c49" fill="#f2c67a"/>
<use href="#c50" fill="#f2c67a"/>
<use href="#c51" fill="#c7867a"/>
<use href="#c52" fill="#f4f0a0"/>
<use href="#c53" fill="#f4f0a0"/>
<use href="#c54" fill="#f4f0a0"/>
<use href="#c55" fill="#f2c67a"/>
<use href="#c56" fill="#f2c67a"/>
<use href="#c57" fill="#f2c67a"/>
<use href="#c58" fill="#f2c67a"/>
<use href="#c59" fill="#f2c67a"/>
<use href="#c60" fill="#f4f0a0"/>
<use href="#c61" fill="#f4f0a0"/>
<use href="#c62" fill="#f4f0a0"/>
<use href="#c63" fill="#f4f0a0"/>
<use href="#c64" fill="#f4f0a0"/>
<use href="#c65" fill="#f4f0a0"/>
<use href="#c66" fill="#f4f0a0"/>
<use href="#c67" fill="#f4f0a0"/>
</g>
<text x="187.8" y="240.6" class="pl" text-anchor="middle">(j)</text>
<text transform="translate(142.2,274.6) scale(1.05,1)" font-size="6.1">AREA_MN</text>
<text transform="translate(142.2,283.8) scale(1.0,1)" font-size="7.1">1990–2000</text>
<rect x="141.4" y="288.50" width="16.2" height="7.5" fill="#5f964a" stroke="#b8b8a0" stroke-width="0.4"/>
<text transform="translate(160.20,294.95) scale(0.9,1)" font-size="6.2">0.00–0.19</text>
<rect x="141.4" y="299.60" width="16.2" height="7.5" fill="#f4f0a0" stroke="#b8b8a0" stroke-width="0.4"/>
<text transform="translate(160.20,306.05) scale(0.9,1)" font-size="6.2">0.20–0.31</text>
<rect x="141.4" y="310.70" width="16.2" height="7.5" fill="#f2c67a" stroke="#b8b8a0" stroke-width="0.4"/>
<text transform="translate(160.20,317.15) scale(0.9,1)" font-size="6.2">0.32–0.46</text>
<rect x="141.4" y="321.80" width="16.2" height="7.5" fill="#c7867a" stroke="#b8b8a0" stroke-width="0.4"/>
<text transform="translate(160.20,328.25) scale(0.9,1)" font-size="6.2">0.47–1.00</text>
<rect x="141.4" y="332.90" width="16.2" height="7.5" fill="#fbeaf6" stroke="#b8b8a0" stroke-width="0.4"/>
<text transform="translate(160.20,339.35) scale(0.9,1)" font-size="6.2">1.01–1.73</text>
<g transform="translate(272,224.2)" stroke="rgba(100,80,40,0.55)" stroke-width="0.36" stroke-linejoin="round">
<use href="#c1" fill="#c7867a"/>
<use href="#c2" fill="#c7867a"/>
<use href="#c3" fill="#f2c67a"/>
<use href="#c4" fill="#f2c67a"/>
<use href="#c5" fill="#f2c67a"/>
<use href="#c6" fill="#f2c67a"/>
<use href="#c7" fill="#f2c67a"/>
<use href="#c8" fill="#f2c67a"/>
<use href="#c9" fill="#c7867a"/>
<use href="#c10" fill="#c7867a"/>
<use href="#c11" fill="#f2c67a"/>
<use href="#c12" fill="#f4f0a0"/>
<use href="#c13" fill="#f4f0a0"/>
<use href="#c14" fill="#f2c67a"/>
<use href="#c15" fill="#f4f0a0"/>
<use href="#c16" fill="#f4f0a0"/>
<use href="#c17" fill="#f4f0a0"/>
<use href="#c18" fill="#f4f0a0"/>
<use href="#c19" fill="#f4f0a0"/>
<use href="#c20" fill="#f4f0a0"/>
<use href="#c21" fill="#5f964a"/>
<use href="#c22" fill="#f4f0a0"/>
<use href="#c23" fill="#f4f0a0"/>
<use href="#c24" fill="#5f964a"/>
<use href="#c25" fill="#f4f0a0"/>
<use href="#c26" fill="#f4f0a0"/>
<use href="#c27" fill="#5f964a"/>
<use href="#c28" fill="#5f964a"/>
<use href="#c29" fill="#f4f0a0"/>
<use href="#c30" fill="#f4f0a0"/>
<use href="#c31" fill="#f4f0a0"/>
<use href="#c32" fill="#f4f0a0"/>
<use href="#c33" fill="#f2c67a"/>
<use href="#c34" fill="#f4f0a0"/>
<use href="#c35" fill="#f4f0a0"/>
<use href="#c36" fill="#f2c67a"/>
<use href="#c37" fill="#f2c67a"/>
<use href="#c38" fill="#5f964a"/>
<use href="#c39" fill="#f2c67a"/>
<use href="#c40" fill="#f4f0a0"/>
<use href="#c41" fill="#fbeaf6"/>
<use href="#c42" fill="#fbeaf6"/>
<use href="#c43" fill="#c7867a"/>
<use href="#c44" fill="#c7867a"/>
<use href="#c45" fill="#c7867a"/>
<use href="#c46" fill="#f2c67a"/>
<use href="#c47" fill="#f2c67a"/>
<use href="#c48" fill="#f2c67a"/>
<use href="#c49" fill="#f4f0a0"/>
<use href="#c50" fill="#f2c67a"/>
<use href="#c51" fill="#f4f0a0"/>
<use href="#c52" fill="#f2c67a"/>
<use href="#c53" fill="#c7867a"/>
<use href="#c54" fill="#f2c67a"/>
<use href="#c55" fill="#f2c67a"/>
<use href="#c56" fill="#f2c67a"/>
<use href="#c57" fill="#f2c67a"/>
<use href="#c58" fill="#f2c67a"/>
<use href="#c59" fill="#f2c67a"/>
<use href="#c60" fill="#f2c67a"/>
<use href="#c61" fill="#f2c67a"/>
<use href="#c62" fill="#f2c67a"/>
<use href="#c63" fill="#f2c67a"/>
<use href="#c64" fill="#f2c67a"/>
<use href="#c65" fill="#f2c67a"/>
<use href="#c66" fill="#f2c67a"/>
<use href="#c67" fill="#f2c67a"/>
</g>
<text x="323.8" y="240.6" class="pl" text-anchor="middle">(k)</text>
<text transform="translate(277.7,275.1) scale(1.05,1)" font-size="6.1">AREA_MN</text>
<text transform="translate(277.7,284.3) scale(1.0,1)" font-size="7.1">2000–2010</text>
<rect x="277.2" y="289.00" width="16" height="7.5" fill="#5f964a" stroke="#b8b8a0" stroke-width="0.4"/>
<text transform="translate(295.70,295.45) scale(0.9,1)" font-size="6.2">-0.30–0.00</text>
<rect x="277.2" y="300.10" width="16" height="7.5" fill="#f4f0a0" stroke="#b8b8a0" stroke-width="0.4"/>
<text transform="translate(295.70,306.55) scale(0.9,1)" font-size="6.2">0.01–0.14</text>
<rect x="277.2" y="311.20" width="16" height="7.5" fill="#f2c67a" stroke="#b8b8a0" stroke-width="0.4"/>
<text transform="translate(295.70,317.65) scale(0.9,1)" font-size="6.2">0.15–0.33</text>
<rect x="277.2" y="322.30" width="16" height="7.5" fill="#c7867a" stroke="#b8b8a0" stroke-width="0.4"/>
<text transform="translate(295.70,328.75) scale(0.9,1)" font-size="6.2">0.34–0.64</text>
<rect x="277.2" y="333.40" width="16" height="7.5" fill="#fbeaf6" stroke="#b8b8a0" stroke-width="0.4"/>
<text transform="translate(295.70,339.85) scale(0.9,1)" font-size="6.2">0.65–1.91</text>
<g transform="translate(408,224.2)" stroke="rgba(100,80,40,0.55)" stroke-width="0.36" stroke-linejoin="round">
<use href="#c1" fill="#f2c67a"/>
<use href="#c2" fill="#f2c67a"/>
<use href="#c3" fill="#f2c67a"/>
<use href="#c4" fill="#f4f0a0"/>
<use href="#c5" fill="#f2c67a"/>
<use href="#c6" fill="#f2c67a"/>
<use href="#c7" fill="#f2c67a"/>
<use href="#c8" fill="#f2c67a"/>
<use href="#c9" fill="#c7867a"/>
<use href="#c10" fill="#fbeaf6"/>
<use href="#c11" fill="#f2c67a"/>
<use href="#c12" fill="#f4f0a0"/>
<use href="#c13" fill="#f4f0a0"/>
<use href="#c14" fill="#f4f0a0"/>
<use href="#c15" fill="#f4f0a0"/>
<use href="#c16" fill="#f4f0a0"/>
<use href="#c17" fill="#f4f0a0"/>
<use href="#c18" fill="#f4f0a0"/>
<use href="#c19" fill="#f4f0a0"/>
<use href="#c20" fill="#f4f0a0"/>
<use href="#c21" fill="#c7867a"/>
<use href="#c22" fill="#f2c67a"/>
<use href="#c23" fill="#f4f0a0"/>
<use href="#c24" fill="#f4f0a0"/>
<use href="#c25" fill="#f4f0a0"/>
<use href="#c26" fill="#f4f0a0"/>
<use href="#c27" fill="#f2c67a"/>
<use href="#c28" fill="#f4f0a0"/>
<use href="#c29" fill="#5f964a"/>
<use href="#c30" fill="#f4f0a0"/>
<use href="#c31" fill="#f4f0a0"/>
<use href="#c32" fill="#c7867a"/>
<use href="#c33" fill="#f2c67a"/>
<use href="#c34" fill="#f4f0a0"/>
<use href="#c35" fill="#f4f0a0"/>
<use href="#c36" fill="#f2c67a"/>
<use href="#c37" fill="#c7867a"/>
<use href="#c38" fill="#c7867a"/>
<use href="#c39" fill="#c7867a"/>
<use href="#c40" fill="#f2c67a"/>
<use href="#c41" fill="#c7867a"/>
<use href="#c42" fill="#c7867a"/>
<use href="#c43" fill="#c7867a"/>
<use href="#c44" fill="#f2c67a"/>
<use href="#c45" fill="#f4f0a0"/>
<use href="#c46" fill="#f4f0a0"/>
<use href="#c47" fill="#f4f0a0"/>
<use href="#c48" fill="#f2c67a"/>
<use href="#c49" fill="#f2c67a"/>
<use href="#c50" fill="#f4f0a0"/>
<use href="#c51" fill="#f4f0a0"/>
<use href="#c52" fill="#f4f0a0"/>
<use href="#c53" fill="#f2c67a"/>
<use href="#c54" fill="#f2c67a"/>
<use href="#c55" fill="#f4f0a0"/>
<use href="#c56" fill="#c7867a"/>
<use href="#c57" fill="#f2c67a"/>
<use href="#c58" fill="#f2c67a"/>
<use href="#c59" fill="#f2c67a"/>
<use href="#c60" fill="#f2c67a"/>
<use href="#c61" fill="#f4f0a0"/>
<use href="#c62" fill="#f4f0a0"/>
<use href="#c63" fill="#c7867a"/>
<use href="#c64" fill="#f2c67a"/>
<use href="#c65" fill="#f2c67a"/>
<use href="#c66" fill="#c7867a"/>
<use href="#c67" fill="#f2c67a"/>
</g>
<text x="459.8" y="240.6" class="pl" text-anchor="middle">(l)</text>
<text transform="translate(413.5,275.8) scale(1.05,1)" font-size="6.1">AREA_MN</text>
<text transform="translate(413.5,285.0) scale(1.0,1)" font-size="7.1">2010–2020</text>
<rect x="413.2" y="289.30" width="15.5" height="7.5" fill="#5f964a" stroke="#b8b8a0" stroke-width="0.4"/>
<text transform="translate(431.50,295.75) scale(0.9,1)" font-size="6.2">-0.20–0.00</text>
<rect x="413.2" y="300.40" width="15.5" height="7.5" fill="#f4f0a0" stroke="#b8b8a0" stroke-width="0.4"/>
<text transform="translate(431.50,306.85) scale(0.9,1)" font-size="6.2">0.01–0.20</text>
<rect x="413.2" y="311.50" width="15.5" height="7.5" fill="#f2c67a" stroke="#b8b8a0" stroke-width="0.4"/>
<text transform="translate(431.50,317.95) scale(0.9,1)" font-size="6.2">0.21–0.38</text>
<rect x="413.2" y="322.60" width="15.5" height="7.5" fill="#c7867a" stroke="#b8b8a0" stroke-width="0.4"/>
<text transform="translate(431.50,329.05) scale(0.9,1)" font-size="6.2">0.39–1.20</text>
<rect x="413.2" y="333.70" width="15.5" height="7.5" fill="#fbeaf6" stroke="#b8b8a0" stroke-width="0.4"/>
<text transform="translate(431.50,340.15) scale(0.9,1)" font-size="6.2">1.21–4.11</text>

<g id="north">
<text x="537.3" y="238.3" font-size="5.4" font-weight="bold" text-anchor="middle" style="font-family:'Liberation Sans',sans-serif" fill="#111">N</text>
<path d="M537.2,240 L532.2,254.8 L537.4,250 Z" fill="#111"/>
<path d="M537.2,240 L541.5,254.6 L537.4,250 Z" fill="#fff" stroke="#111" stroke-width="0.5"/>
</g>
<g id="scale" font-weight="bold" font-size="5.8" fill="#111">
<text x="471.1" y="334.0" text-anchor="middle">0</text>
<text x="482.1" y="334.0" text-anchor="middle">50</text>
<text x="493" y="334.0" text-anchor="middle">100</text>
<rect x="470.9" y="337.2" width="21.8" height="3.3" fill="#fff" stroke="#111" stroke-width="0.6"/>
<rect x="470.9" y="337.2" width="11.3" height="3.3" fill="#111"/>
<text x="494.5" y="340.1">km</text>
</g>

</svg>
</body></html>
